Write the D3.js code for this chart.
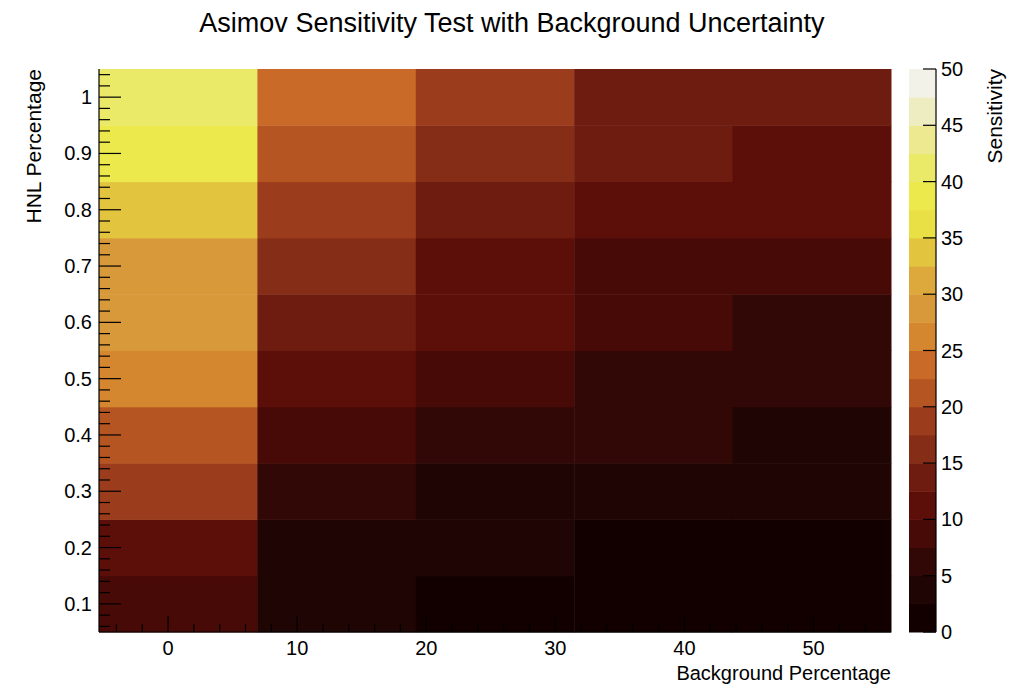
<!DOCTYPE html>
<html><head><meta charset="utf-8">
<script src="https://cdn.jsdelivr.net/npm/d3@7"></script>
<style>body{margin:0;background:#fff}text{font-family:"Liberation Sans",Arial,sans-serif}</style>
</head><body><div id="chart"></div>
<script>
// bins: background % (centers) and HNL fraction (centers)
var bgCenters = [0, 12.3, 24.6, 36.9, 49.2];
var hnlCenters = [0.1, 0.2, 0.3, 0.4, 0.5, 0.6, 0.7, 0.8, 0.9, 1.0];
// sensitivity, rows = hnl 0.1 .. 1.0, cols = background bins
var sens = [
  [9, 4, 2, 2, 2],
  [11, 4, 4, 2, 2],
  [19, 6, 4, 4, 4],
  [21, 9, 6, 6, 4],
  [27, 11, 9, 6, 6],
  [29, 14, 11, 9, 6],
  [29, 16, 11, 9, 9],
  [34, 19, 14, 12, 12],
  [39, 21, 16, 14, 12],
  [41, 24, 19, 14, 14]
];
var palette = ["#120000","#1f0504","#310806","#470a07","#5c0e09","#6e1b10","#852d16","#9b3c1c",
  "#b55522","#c96a28","#d5872f","#d8993a","#dda93c","#e3c43f","#e8e044","#ece94c","#ebe968",
  "#ece990","#eeedc2","#f2f2e8"];
var xTicks = [0, 10, 20, 30, 40, 50];
var yTicks = [0.1, 0.2, 0.3, 0.4, 0.5, 0.6, 0.7, 0.8, 0.9, 1];
var zTicks = [0, 5, 10, 15, 20, 25, 30, 35, 40, 45, 50];

var W = 1024, H = 692, L = 99, R = 891, T = 69, B = 632;
var svg = d3.select("#chart").append("svg").attr("width", W).attr("height", H);

var x = d3.scaleLinear().domain([-5.35, 56]).range([L, R]);
var y = d3.scaleLinear().domain([0.05, 1.05]).range([B, T]);
var z = d3.scaleQuantize().domain([0, 50]).range(palette);

var cells = [];
sens.forEach(function (row, i) {
  row.forEach(function (v, j) { cells.push({i: i, j: j, v: v}); });
});
var bw = (56 + 5.35) / bgCenters.length;
var xEdges = d3.range(bgCenters.length + 1).map(function (j) { return -5.35 + j * bw; });
svg.append("g").selectAll("rect").data(cells).enter().append("rect")
  .attr("x", function (d) { return x(xEdges[d.j]); })
  .attr("width", function (d) { return x(xEdges[d.j + 1]) - x(xEdges[d.j]) + 0.5; })
  .attr("y", function (d) { return y(hnlCenters[d.i] + 0.05); })
  .attr("height", function (d) { return y(hnlCenters[d.i] - 0.05) - y(hnlCenters[d.i] + 0.05) + 0.5; })
  .attr("fill", function (d) { return z(d.v); });

// axes
var ax = svg.append("g").attr("stroke", "#000").attr("stroke-width", 1.2);
ax.append("line").attr("x1", L).attr("x2", R).attr("y1", B).attr("y2", B);
ax.append("line").attr("x1", L).attr("x2", L).attr("y1", T).attr("y2", B);
d3.range(-4, 56, 2).forEach(function (v) {
  var major = v % 10 === 0;
  ax.append("line").attr("x1", x(v)).attr("x2", x(v)).attr("y1", B).attr("y2", B - (major ? 16 : 8));
});
d3.range(0.06, 1.05, 0.02).forEach(function (v) {
  var major = Math.abs(v * 10 - Math.round(v * 10)) < 1e-6;
  ax.append("line").attr("x1", L).attr("x2", L + (major ? 22 : 11)).attr("y1", y(v)).attr("y2", y(v));
});
svg.append("g").selectAll("text").data(xTicks).enter().append("text")
  .attr("x", function (d) { return x(d); }).attr("y", 655).attr("text-anchor", "middle")
  .attr("font-size", 20).text(function (d) { return d; });
svg.append("g").selectAll("text").data(yTicks).enter().append("text")
  .attr("x", 92).attr("y", function (d) { return y(d) + 7; }).attr("text-anchor", "end")
  .attr("font-size", 20).text(function (d) { return d; });

// color bar
var cbL = 909, cbR = 936;
var zy = d3.scaleLinear().domain([0, 50]).range([B, T]);
svg.append("g").selectAll("rect").data(palette).enter().append("rect")
  .attr("x", cbL).attr("width", cbR - cbL)
  .attr("y", function (d, i) { return zy((i + 1) * 2.5); })
  .attr("height", function (d, i) { return zy(i * 2.5) - zy((i + 1) * 2.5) + 0.5; })
  .attr("fill", function (d) { return d; });
var cb = svg.append("g").attr("stroke", "#000").attr("stroke-width", 1.2);
cb.append("line").attr("x1", cbR).attr("x2", cbR).attr("y1", T).attr("y2", B);
zTicks.forEach(function (v) {
  cb.append("line").attr("x1", cbR).attr("x2", cbR - 13).attr("y1", zy(v)).attr("y2", zy(v));
});
svg.append("g").selectAll("text").data(zTicks).enter().append("text")
  .attr("x", 941).attr("y", function (d) { return zy(d) + 7; })
  .attr("font-size", 20).text(function (d) { return d; });

// titles
svg.append("text").attr("x", 512).attr("y", 32).attr("text-anchor", "middle")
  .attr("font-size", 27).text("Asimov Sensitivity Test with Background Uncertainty");
svg.append("text").attr("x", R).attr("y", 680).attr("text-anchor", "end")
  .attr("font-size", 20).text("Background Percentage");
svg.append("text").attr("transform", "translate(41," + T + ") rotate(-90)").attr("text-anchor", "end")
  .attr("font-size", 21).text("HNL Percentage");
svg.append("text").attr("transform", "translate(1002," + T + ") rotate(-90)").attr("text-anchor", "end")
  .attr("font-size", 21).text("Sensitivity");
</script></body></html>
